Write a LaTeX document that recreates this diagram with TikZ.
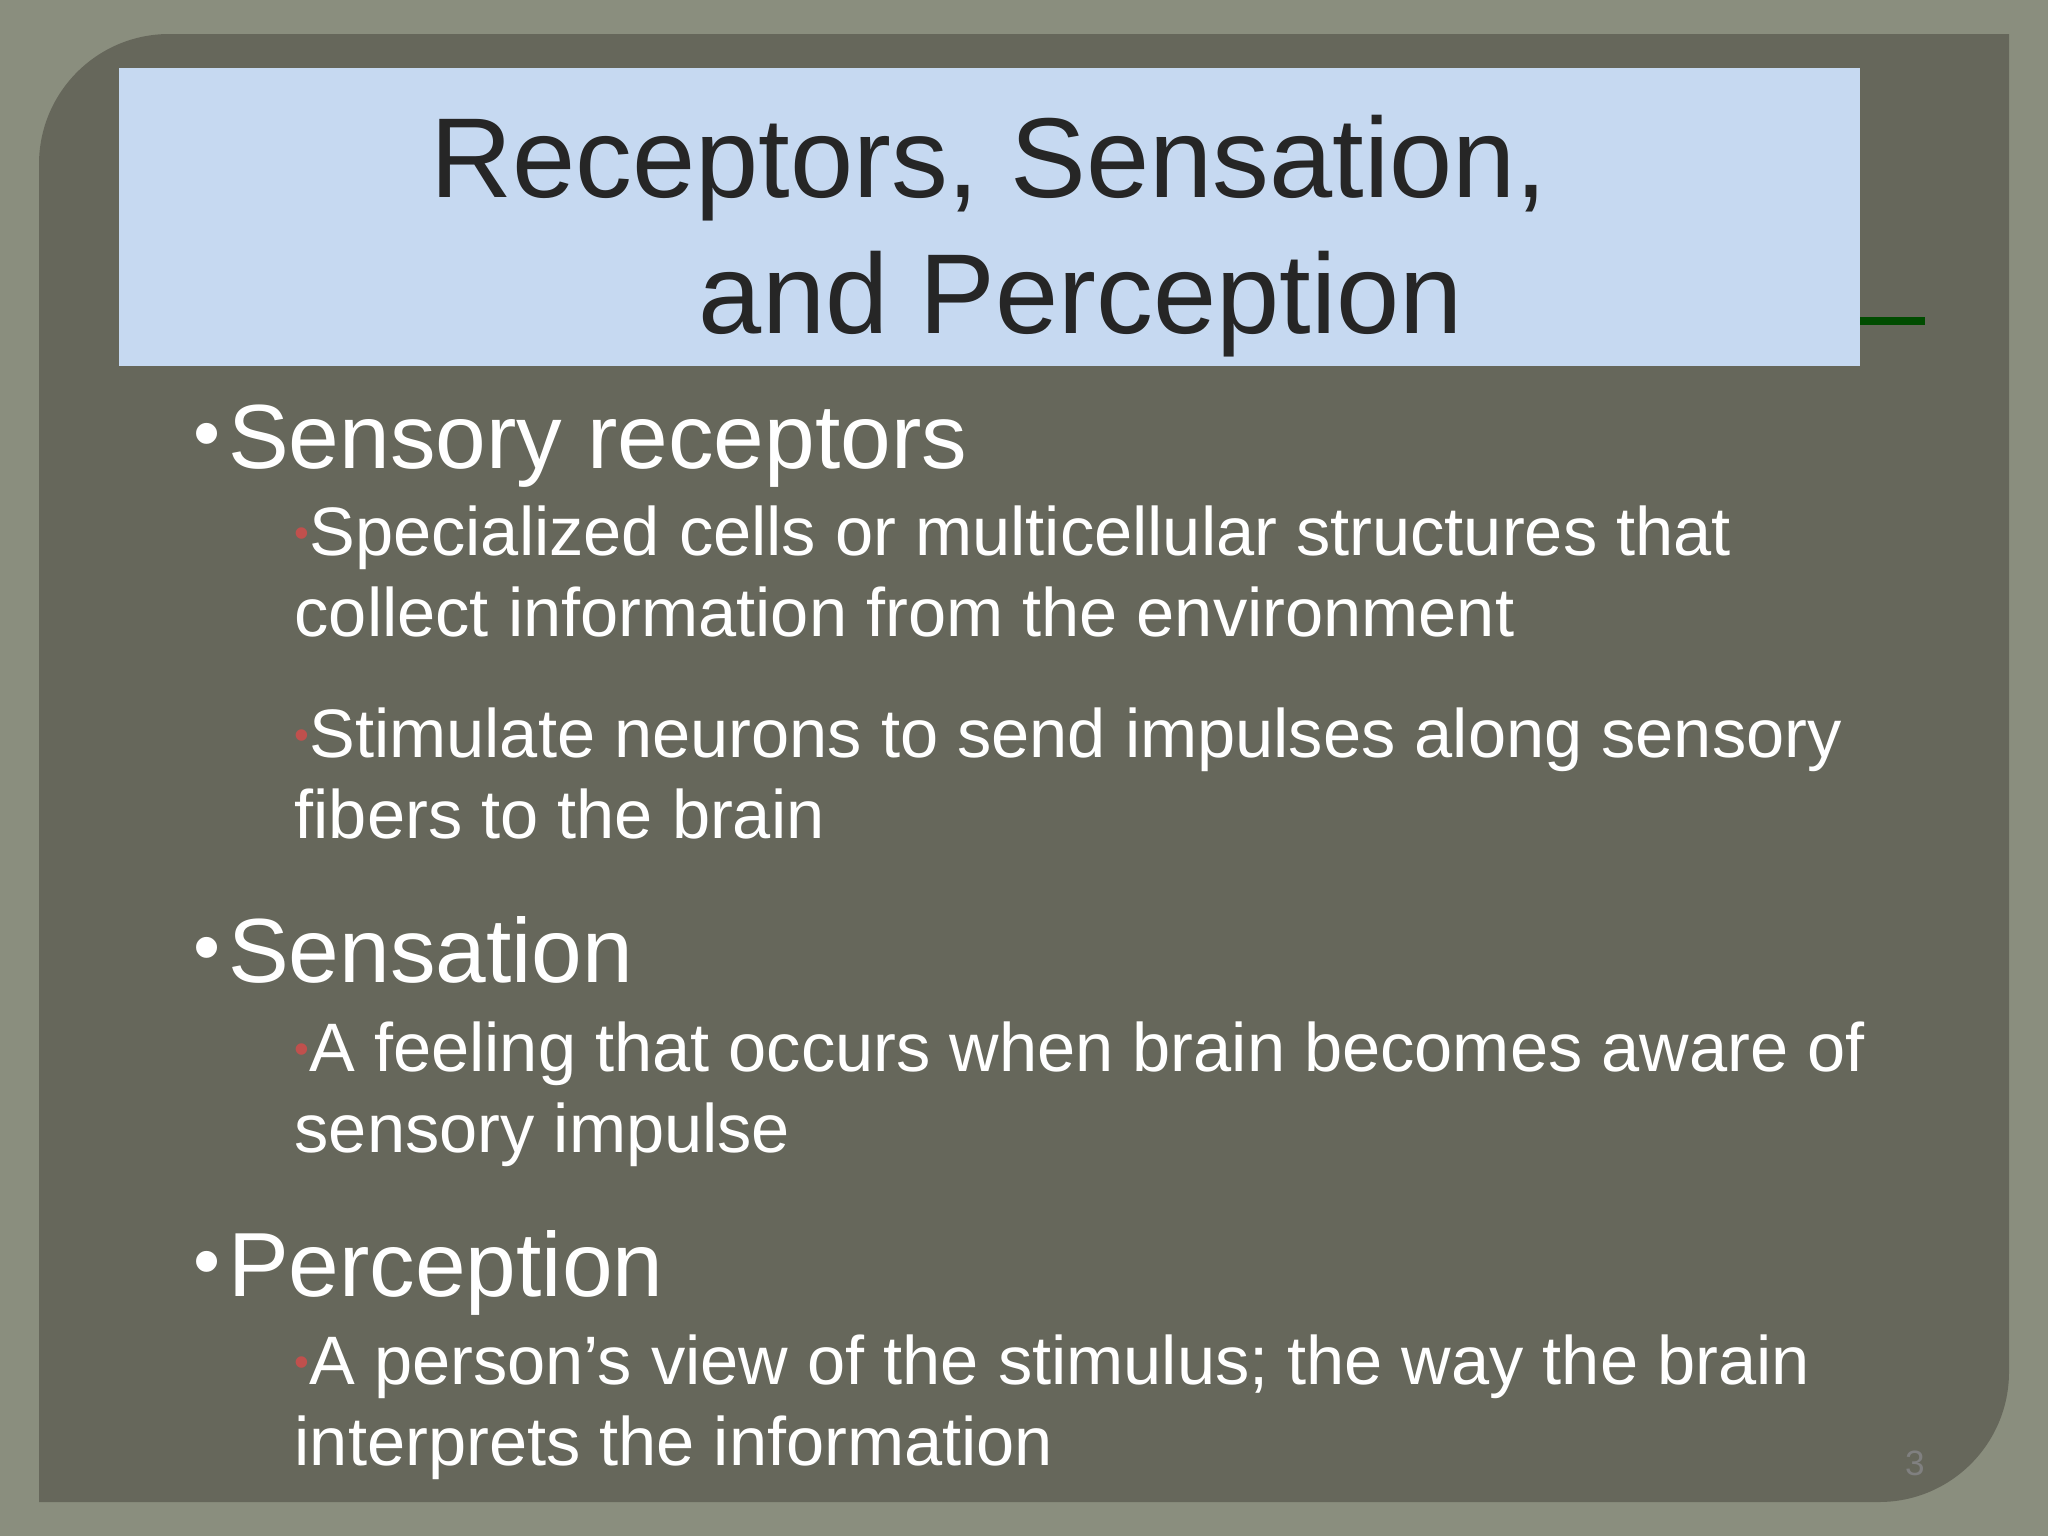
\documentclass[tikz,border=0pt]{standalone}
\usepackage{fontspec}
\setmainfont{Liberation Sans}
\definecolor{bgc}{HTML}{8A8E7E}
\definecolor{panel}{HTML}{66675B}
\definecolor{titlebg}{HTML}{C6D9F1}
\definecolor{redb}{HTML}{C0504D}
\tikzset{
  head/.style={anchor=base west,text=white,font=\fontsize{25.9}{30}\selectfont,inner sep=0pt},
  sub/.style={anchor=base west,text=white,font=\fontsize{19.5}{23}\selectfont,inner sep=0pt},
  ttl/.style={anchor=base,text=black!85,font=\fontsize{32.3}{36}\selectfont,inner sep=0pt}
}
\newcommand{\rb}{{\color{redb}\fontsize{12}{12}\selectfont\raisebox{0.35ex}{\textbullet}}}
\newcommand{\wb}{{\fontsize{22}{22}\selectfont\raisebox{0.2ex}{\textbullet}}\kern0.08em}
\begin{document}
\begin{tikzpicture}[x=0.01cm,y=-0.01cm]
\useasboundingbox (0,0) rectangle (2048,1536);
\fill[bgc] (0,0) rectangle (2048,1536);
\fill[panel] (39,1502) {[rounded corners=1.3cm] -- (39,34)} -- (2009,34) {[rounded corners=1.3cm] -- (2009,1502)} -- cycle;
\fill[titlebg] (119,68) rectangle (1860,366);
\draw[color=green!30!black,line width=2pt] (1860,321) -- (1925,321);
\node[ttl] (t1) at (989,197) {Receptors, Sensation,};
\node[ttl] (t2) at (1081,333) {and Perception};
\node[head] (h1) at (193,468) {\wb Sensory receptors};
\node[head] (h2) at (193,982) {\wb Sensation};
\node[head] (h3) at (193,1296) {\wb Perception};
\node[sub] (s1) at (294,555) {\rb Specialized cells or multicellular structures that};
\node[sub] (s2) at (294,636) {collect information from the environment};
\node[sub] (s3) at (294,757) {\rb Stimulate neurons to send impulses along sensory};
\node[sub] (s4) at (294,838) {fibers to the brain};
\node[sub] (s5) at (294,1071) {\rb A feeling that occurs when brain becomes aware of};
\node[sub] (s6) at (294,1152) {sensory impulse};
\node[sub] (s7) at (294,1384) {\rb A person’s view of the stimulus; the way the brain};
\node[sub] (s8) at (294,1465) {interprets the information};
\node[anchor=base,text=gray,font=\fontsize{10}{12}\selectfont\rmfamily,inner sep=0pt] (pn) at (1915,1475) {3};
\end{tikzpicture}
\end{document}
